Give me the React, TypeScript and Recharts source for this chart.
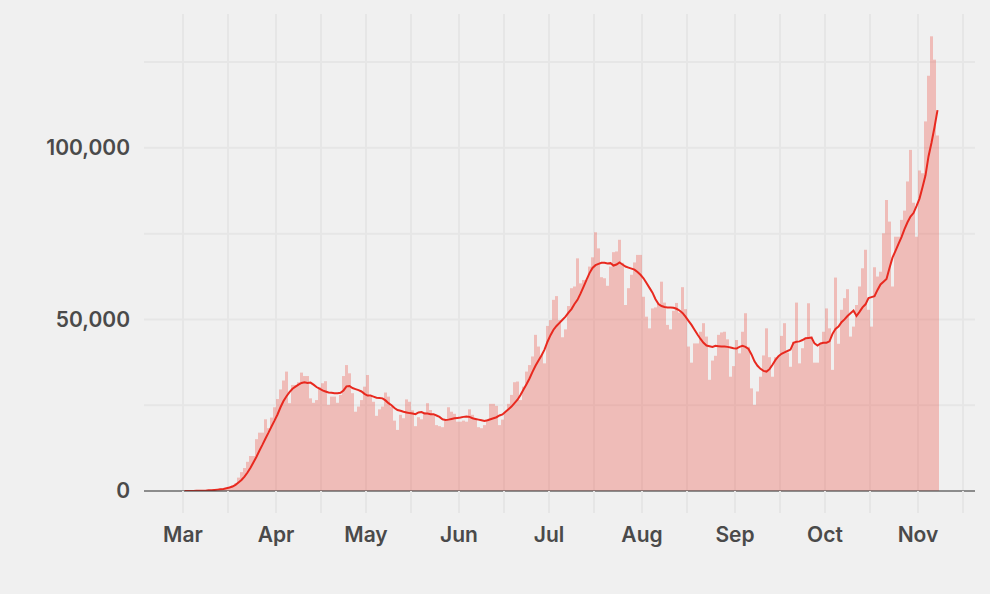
import { ComposedChart, Bar, Line, XAxis, YAxis, CartesianGrid } from 'recharts';

// daily new cases, one array per month (Mar 1 .. Nov 7)
const marCases = [
  10, 10, 20, 30, 50, 70, 100, 120, 150, 270, 380, 460, 700, 700, 900, 1200, 1600, 2200, 3900, 5500,
  6700, 8500, 10200, 10200, 15100, 17000, 17000, 20900, 18300, 21400, 24400,
];
const aprCases = [
  26800, 29600, 32200, 34800, 25600, 30900, 30900, 31700, 34500, 33500, 33500, 27000, 25700, 26500, 30200,
  31400, 32000, 25100, 27500, 27500, 25700, 28000, 33500, 36700, 34300, 28500, 23100, 24600, 26500, 30400,
];
const mayCases = [
  33800, 27500, 26000, 21900, 23800, 24600, 28700, 27500, 24600, 20500, 17800, 22200, 21200, 26700, 26000,
  23500, 18900, 21500, 20900, 23000, 25600, 23600, 22400, 19200, 18900, 18600, 20500, 24400, 23100, 22500,
  20200,
];
const junCases = [
  20200, 20500, 20200, 23800, 22200, 21000, 18600, 18300, 19200, 20500, 25400, 25400, 24800, 19200, 20800,
  23000, 25400, 28000, 31700, 31900, 26500, 30400, 34800, 36700, 39200, 45500, 42100, 39600, 37200, 48100,
];
const julCases = [
  49800, 55700, 56800, 49800, 44800, 47100, 53900, 59100, 59600, 67800, 60500, 61500, 61500, 65400, 68100,
  75400, 70700, 62300, 62000, 59800, 65400, 69600, 69800, 73200, 66500, 54200, 59100, 63000, 66600, 68800,
  68800,
];
const augCases = [
  56600, 50800, 47400, 53200, 53500, 54500, 61000, 54900, 48400, 47100, 52500, 54800, 52000, 59400, 53000,
  42100, 37400, 43000, 43000, 46400, 48900, 45000, 32400, 38000, 39400, 45500, 46200, 46400, 44200, 33300,
  36400,
];
const sepCases = [
  44000, 40100, 46400, 51800, 42000, 29900, 25100, 29000, 33300, 39500, 47400, 39000, 33300, 39000, 39200,
  45200, 48900, 40300, 36200, 43500, 54900, 37200, 41600, 44500, 54700, 45000, 37400, 37400, 43000, 46400,
];
const octCases = [
  53200, 47400, 35300, 62200, 42900, 52800, 56200, 58800, 45000, 47900, 54200, 59600, 64900, 70300, 52800,
  47900, 65200, 62500, 63900, 75100, 84800, 78500, 59600, 74100, 74100, 79000, 81700, 90200, 99400, 84000,
  74100,
];
const novCases = [93400, 92600, 107700, 121000, 132500, 125700, 103600];

// 7-day average
const marAvg = [
  0, 0, 0, 0, 100, 100, 100, 100, 200, 200, 300, 400, 500, 600, 800, 1000, 1300, 1800, 2500, 3200,
  4200, 5400, 6800, 8400, 10000, 11800, 13500, 15300, 17000, 18800, 20500,
];
const aprAvg = [
  22300, 24400, 26200, 27600, 28800, 29800, 30400, 31000, 31500, 31700, 31500, 31600, 31000, 30300, 29800,
  29300, 29000, 28700, 28600, 28500, 28500, 28600, 29300, 30500, 30600, 30000, 29700, 29400, 29000, 28300,
];
const mayAvg = [
  27800, 27800, 27500, 27200, 27100, 27000, 26400, 25600, 25000, 24200, 23600, 23400, 23100, 22900, 22700,
  22600, 22400, 22900, 23000, 22600, 22600, 22400, 22400, 22000, 21600, 20900, 20700, 20800, 21000, 21200,
  21300,
];
const junAvg = [
  21400, 21600, 21700, 21600, 21200, 21000, 20800, 20600, 20400, 20600, 20900, 21200, 21500, 22000, 22300,
  23100, 23800, 24600, 25600, 26600, 28000, 29600, 31100, 32800, 34700, 36500, 38000, 39500, 41200, 43500,
];
const julAvg = [
  45400, 47000, 48100, 49000, 49900, 50800, 52000, 53000, 54500, 55700, 57500, 59500, 61500, 63500, 65000,
  65800, 66200, 66500, 66500, 66300, 66400, 65700, 66000, 66600, 66000, 65400, 65100, 64800, 64500, 63800,
  63000,
];
const augAvg = [
  62000, 60600, 59200, 57800, 55900, 54500, 53900, 53600, 53500, 53500, 53400, 53100, 52600, 51900, 50800,
  49600, 48400, 47000, 45600, 44300, 43200, 42400, 42200, 42000, 42300, 42200, 42100, 42100, 42000, 41800,
  41600,
];
const sepAvg = [
  41500, 42000, 42300, 42000, 41400, 39800, 37800, 36500, 35600, 35000, 34800, 35500, 36800, 38200, 39300,
  40000, 40400, 40800, 41200, 43200, 43500, 43600, 44000, 44500, 44600, 44700, 43000, 42400, 43000, 43200,
];
const octAvg = [
  43200, 43600, 45800, 47200, 47900, 49200, 50000, 51000, 51800, 52600, 51000, 52200, 53500, 54400, 56200,
  56500, 56800, 58600, 60200, 61000, 61800, 65000, 68000, 70000, 72000, 74000, 76300, 78300, 80000, 81000,
  83000,
];
const novAvg = [85200, 88500, 92000, 97500, 101500, 106000, 111000];

const monthLabels = ['Mar', 'Apr', 'May', 'Jun', 'Jul', 'Aug', 'Sep', 'Oct', 'Nov'];
const monthStartDays = [0, 31, 61, 92, 122, 153, 184, 214, 245];
const midMonthDays = [15, 46, 76, 107, 137, 168, 199, 229, 260];
const yTicks = [0, 25000, 50000, 75000, 100000, 125000];
const yLabelled = [0, 50000, 100000];

const cases = [
  ...marCases, ...aprCases, ...mayCases, ...junCases, ...julCases,
  ...augCases, ...sepCases, ...octCases, ...novCases,
];
const avg = [
  ...marAvg, ...aprAvg, ...mayAvg, ...junAvg, ...julAvg,
  ...augAvg, ...sepAvg, ...octAvg, ...novAvg,
];
const data = cases.map((c, i) => ({ day: i, cases: c, avg: avg[i] }));

// ticks sit on the start of the day so the grid lands between bars
const xTicks = [...monthStartDays, ...midMonthDays].map((d) => d - 0.5).sort((a, b) => a - b);

const tickStyle = { fontSize: 21, fontWeight: 600, fill: '#4a4a4a', fontFamily: 'Inter, sans-serif' };

// one 3px column per day, snapped to whole pixels
const DayBar = (props: any) => {
  const { x, y, width, height } = props;
  if (!height || height <= 0) return null;
  const left = Math.round(x + width / 2 - 1.5);
  return <rect x={left} y={y} width={3} height={height} fill="#ed4639" fillOpacity={0.3} />;
};

export default function App() {
  return (
    <div style={{ position: 'absolute', left: 0, top: 0, width: 990, height: 594, background: '#f0f0f0' }}>
      <ComposedChart
        width={990}
        height={594}
        data={data}
        margin={{ top: 14, right: 15, left: 0, bottom: 43 }}
      >
        <CartesianGrid stroke="#e6e6e6" strokeWidth={2} syncWithTicks />
        <XAxis
          dataKey="day"
          type="number"
          domain={[-13.5, 263.5]}
          allowDataOverflow
          ticks={xTicks}
          interval={0}
          height={60}
          tickSize={22}
          tickMargin={14}
          tickLine={{ stroke: '#e6e6e6', strokeWidth: 2 }}
          axisLine={{ stroke: '#333333', strokeWidth: 1 }}
          tick={tickStyle}
          tickFormatter={(v: number) => {
            const i = monthStartDays.indexOf(v + 0.5);
            return i >= 0 ? monthLabels[i] : '';
          }}
        />
        <YAxis
          type="number"
          domain={[0, 139000]}
          allowDataOverflow
          ticks={yTicks}
          interval={0}
          width={144}
          tickSize={0}
          tickMargin={14}
          tickLine={false}
          axisLine={false}
          tick={tickStyle}
          tickFormatter={(v: number) => (yLabelled.includes(v) ? v.toLocaleString('en-US') : '')}
        />
        <Bar dataKey="cases" barSize={3} shape={<DayBar />} isAnimationActive={false} />
        <Line
          dataKey="avg"
          type="linear"
          stroke="#e8291f"
          strokeWidth={2}
          dot={false}
          activeDot={false}
          isAnimationActive={false}
        />
      </ComposedChart>
    </div>
  );
}
